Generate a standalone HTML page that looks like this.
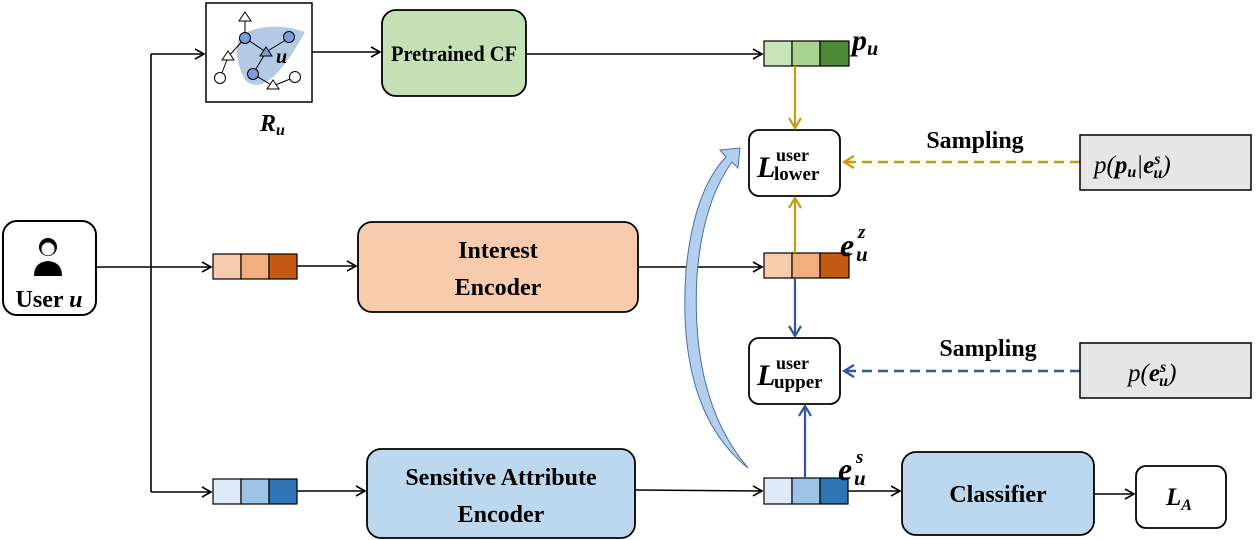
<!DOCTYPE html>
<html><head><meta charset="utf-8"><style>
html,body{margin:0;padding:0;background:#fff;}
svg{display:block;font-family:"Liberation Serif",serif;}
.b{font-weight:bold;}
</style></head><body>
<svg width="1256" height="540" viewBox="0 0 1256 540" xmlns="http://www.w3.org/2000/svg">
<defs>
<marker id="ak" markerWidth="12" markerHeight="12" refX="10" refY="6" orient="auto" markerUnits="userSpaceOnUse"><path d="M1,1 L10,6 L1,11" fill="none" stroke="#000" stroke-width="1.6"/></marker>
<marker id="ag" markerWidth="14" markerHeight="14" refX="11" refY="7" orient="auto" markerUnits="userSpaceOnUse"><path d="M1,1 L11,7 L1,13" fill="none" stroke="#c89a0f" stroke-width="2.2"/></marker>
<marker id="ab" markerWidth="14" markerHeight="14" refX="11" refY="7" orient="auto" markerUnits="userSpaceOnUse"><path d="M1,1 L11,7 L1,13" fill="none" stroke="#2f55a0" stroke-width="2.2"/></marker>
</defs>
<g stroke="#000" stroke-width="1.6" fill="none">
<line x1="97" y1="267" x2="211" y2="267" marker-end="url(#ak)"/>
<line x1="151" y1="54" x2="151" y2="492"/>
<line x1="151" y1="54" x2="204" y2="54" marker-end="url(#ak)"/>
<line x1="151" y1="492" x2="211" y2="492" marker-end="url(#ak)"/>
<line x1="312" y1="52" x2="380" y2="52" marker-end="url(#ak)"/>
<line x1="526" y1="54" x2="762" y2="54" marker-end="url(#ak)"/>
<line x1="297" y1="266" x2="356" y2="266" marker-end="url(#ak)"/>
<line x1="638" y1="267" x2="762" y2="267" marker-end="url(#ak)"/>
<line x1="297" y1="491" x2="365" y2="491" marker-end="url(#ak)"/>
<line x1="635" y1="490" x2="762" y2="491" marker-end="url(#ak)"/>
<line x1="848" y1="491" x2="900" y2="491" marker-end="url(#ak)"/>
<line x1="1094" y1="494" x2="1134" y2="494" marker-end="url(#ak)"/>
</g>
<rect x="3" y="221" width="93" height="94" rx="14" fill="#fff" stroke="#000" stroke-width="2"/>
<circle cx="48" cy="247" r="9" fill="#000"/><circle cx="48" cy="249" r="6.5" fill="#fff"/>
<path d="M34,276 Q34,262 48,261 Q62,262 62,276 Z" fill="#000"/>
<text x="49" y="307" text-anchor="middle" class="b" font-size="24">User <tspan font-style="italic">u</tspan></text>
<rect x="206" y="3" width="106" height="99" fill="#fff" stroke="#000" stroke-width="1.5"/>
<path d="M240,35 Q270,20 305,32 Q290,60 275,75 Q258,92 245,80 Q232,55 240,35Z" fill="#b4c9e4"/>
<g stroke="#000" stroke-width="1" fill="#fff">
<line x1="245" y1="20" x2="245" y2="38"/><line x1="245" y1="38" x2="266" y2="52"/><line x1="266" y1="52" x2="289" y2="38"/><line x1="266" y1="52" x2="253" y2="74"/><line x1="253" y1="74" x2="273" y2="86"/><line x1="273" y1="86" x2="295" y2="77"/><line x1="245" y1="38" x2="228" y2="57"/><line x1="228" y1="57" x2="220" y2="78"/>
<circle cx="245" cy="38" r="5.5" fill="#7a9ed8"/><circle cx="289" cy="37" r="5.5" fill="#7a9ed8"/><circle cx="253" cy="74" r="5.5" fill="#7a9ed8"/>
<circle cx="220" cy="78" r="5.5"/><circle cx="295" cy="77" r="5.5"/>
<path d="M245,12 L251,21 L239,21Z"/><path d="M228,51 L234,60 L222,60Z"/><path d="M266,47 L272,56 L260,56Z" fill="#7a9ed8"/><path d="M273,80 L279,89 L267,89Z"/>
</g>
<text x="276" y="63" class="b" font-style="italic" font-size="20">u</text>
<text x="260" y="131" class="b" font-style="italic" font-size="24">R<tspan font-size="16" dy="4">u</tspan></text>
<rect x="382" y="10" width="144" height="86" rx="14" fill="#c5e0b4" stroke="#000" stroke-width="1.8"/>
<text x="454" y="61" text-anchor="middle" class="b" font-size="22" textLength="126" lengthAdjust="spacingAndGlyphs">Pretrained CF</text>
<rect x="358" y="222" width="280" height="90" rx="14" fill="#f8cbad" stroke="#000" stroke-width="1.8"/>
<text x="498" y="258" text-anchor="middle" class="b" font-size="24">Interest</text>
<text x="498" y="295" text-anchor="middle" class="b" font-size="24">Encoder</text>
<rect x="367" y="449" width="268" height="89" rx="14" fill="#bdd7ee" stroke="#000" stroke-width="1.8"/>
<text x="501" y="485" text-anchor="middle" class="b" font-size="24">Sensitive Attribute</text>
<text x="501" y="522" text-anchor="middle" class="b" font-size="24">Encoder</text>
<rect x="902" y="452" width="192" height="83" rx="14" fill="#bdd7ee" stroke="#000" stroke-width="1.8"/>
<text x="998" y="502" text-anchor="middle" class="b" font-size="24">Classifier</text>
<rect x="1136" y="466" width="90" height="62" rx="10" fill="#fff" stroke="#000" stroke-width="1.8"/>
<text x="1166" y="505" class="b" font-style="italic" font-size="25">L<tspan font-size="16" dy="5">A</tspan></text>
<g stroke="#000" stroke-width="1.2">
<rect x="764" y="41" width="28" height="25" fill="#c7e5b8"/><rect x="792" y="41" width="28" height="25" fill="#a8d48f"/><rect x="820" y="41" width="29" height="25" fill="#4a8a35"/>
<rect x="764" y="253" width="28" height="25" fill="#f8cbad"/><rect x="792" y="253" width="28" height="25" fill="#f2ae7f"/><rect x="820" y="253" width="29" height="25" fill="#c55a11"/>
<rect x="213" y="254" width="28" height="25" fill="#f8cbad"/><rect x="241" y="254" width="28" height="25" fill="#f2ae7f"/><rect x="269" y="254" width="28" height="25" fill="#c55a11"/>
<rect x="213" y="479" width="28" height="25" fill="#deebf7"/><rect x="241" y="479" width="28" height="25" fill="#9dc3e6"/><rect x="269" y="479" width="28" height="25" fill="#2e75b6"/>
<rect x="764" y="478" width="28" height="26" fill="#deebf7"/><rect x="792" y="478" width="28" height="26" fill="#9dc3e6"/><rect x="820" y="478" width="28" height="26" fill="#2e75b6"/>
</g>
<text x="852" y="50" class="b" font-style="italic" font-size="30">p<tspan font-size="20" dy="5">u</tspan></text>
<text x="840" y="256" class="b" font-style="italic" font-size="32">e</text><text x="858" y="238" class="b" font-style="italic" font-size="19">z</text><text x="856" y="261" class="b" font-style="italic" font-size="21">u</text>
<text x="838" y="480" class="b" font-style="italic" font-size="32">e</text><text x="856" y="463" class="b" font-style="italic" font-size="19">s</text><text x="854" y="485" class="b" font-style="italic" font-size="21">u</text>
<rect x="749" y="130" width="91" height="66" rx="10" fill="#fff" stroke="#000" stroke-width="1.8"/>
<text x="757" y="177" class="b" font-style="italic" font-size="30">L</text><text x="776" y="161" class="b" font-size="18">user</text><text x="774" y="180" class="b" font-size="19">lower</text>
<rect x="749" y="338" width="91" height="66" rx="10" fill="#fff" stroke="#000" stroke-width="1.8"/>
<text x="757" y="385" class="b" font-style="italic" font-size="30">L</text><text x="776" y="369" class="b" font-size="18">user</text><text x="774" y="388" class="b" font-size="19">upper</text>
<line x1="795" y1="66" x2="795" y2="128" stroke="#c89a0f" stroke-width="2.2" marker-end="url(#ag)"/>
<line x1="795" y1="253" x2="795" y2="198" stroke="#c89a0f" stroke-width="2.2" marker-end="url(#ag)"/>
<line x1="795" y1="278" x2="795" y2="336" stroke="#2f55a0" stroke-width="2.2" marker-end="url(#ab)"/>
<line x1="805" y1="478" x2="805" y2="406" stroke="#2f55a0" stroke-width="2.2" marker-end="url(#ab)"/>
<line x1="1080" y1="162" x2="844" y2="162" stroke="#c89a0f" stroke-width="2.5" stroke-dasharray="10,6" marker-end="url(#ag)"/>
<line x1="1080" y1="371" x2="844" y2="371" stroke="#2f55a0" stroke-width="2.5" stroke-dasharray="10,6" marker-end="url(#ab)"/>
<text x="975" y="148" text-anchor="middle" class="b" font-size="24">Sampling</text>
<text x="988" y="356" text-anchor="middle" class="b" font-size="24">Sampling</text>
<rect x="1080" y="135" width="171" height="55" fill="#e6e6e6" stroke="#000" stroke-width="1.5"/>
<text x="1094" y="173" font-style="italic" font-size="25">p(<tspan class="b">p<tspan font-size="16" dy="4">u</tspan></tspan><tspan dy="-4">|</tspan><tspan class="b">e</tspan><tspan font-size="16" dy="-9" class="b">s</tspan><tspan font-size="16" dx="-7" dy="14" class="b">u</tspan><tspan dy="-5">)</tspan></text>
<rect x="1080" y="343" width="171" height="55" fill="#e6e6e6" stroke="#000" stroke-width="1.5"/>
<text x="1128" y="381" font-style="italic" font-size="25">p(<tspan class="b">e</tspan><tspan font-size="16" dy="-9" class="b">s</tspan><tspan font-size="16" dx="-7" dy="14" class="b">u</tspan><tspan dy="-5">)</tspan></text>
<path d="M748,468 Q676,410 686,270 Q694,190 726,157 L720,150 L740,148 L738,168 L732,162 Q703,202 697,275 Q690,400 748,468Z" fill="#b4cfee" stroke="#4a6fa5" stroke-width="1"/>
</svg>
</body></html>
